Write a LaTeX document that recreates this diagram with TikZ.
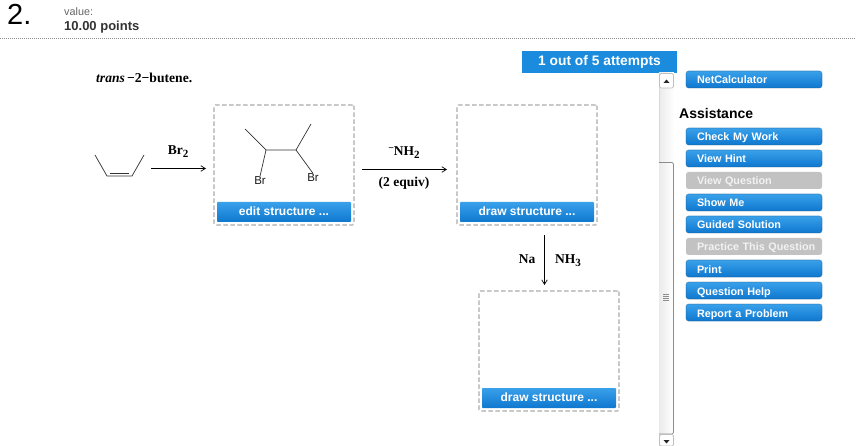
\documentclass[tikz,border=0pt]{standalone}
\usepackage{fontspec}
\setmainfont{Liberation Sans}
\newfontfamily\serifb{Liberation Serif}[BoldFont={Liberation Serif Bold},BoldItalicFont={Liberation Serif Bold Italic}]
\usetikzlibrary{arrows.meta}
\definecolor{btnblue}{HTML}{1B8BDD}
\definecolor{btntop}{HTML}{39A0EA}
\definecolor{btnbot}{HTML}{0F78CF}
\definecolor{btnedge}{HTML}{1A5C90}
\definecolor{dashgray}{HTML}{C8C8C8}
\newcommand{\fsz}[1]{\fontsize{#1}{#1}\selectfont}
\newcommand{\subsc}[1]{\raisebox{-3pt}{\fsz{11}#1}}
\tikzset{
  sidebtn/.style={anchor=north west,rectangle,rounded corners=2.5pt,minimum width=136pt,minimum height=17pt,
    text width=114pt,inner xsep=11pt,inner ysep=0pt,outer sep=0pt,align=left,text=white,font=\fsz{10.8}\bfseries,
    text height=10pt,text depth=1pt,
    top color=btntop,bottom color=btnbot,draw=btnedge,draw opacity=.45,line width=.6pt},
  greybtn/.style={sidebtn,top color=black!24,bottom color=black!24,draw=none,text=black!5},
  dashbox/.style={anchor=north west,rectangle,rounded corners=1.5pt,minimum width=140pt,minimum height=120pt,
    draw=dashgray,line width=1.6pt,dash pattern=on 4.5pt off 2.5pt,inner sep=0pt,outer sep=0pt},
  strbtn/.style={anchor=north west,rectangle,rounded corners=.8pt,minimum width=134pt,minimum height=20pt,inner sep=0pt,outer sep=0pt,
    top color=btntop,bottom color=btnbot,text=white,font=\fsz{12}\bfseries,text height=8pt,text depth=1pt},
  rxarrow/.style={draw=black,line width=.7pt,-{Straight Barb[length=4.5pt,width=5.5pt]}},
  bond/.style={draw=black!80,line width=.7pt},
  rxlabel/.style={font=\serifb\fsz{13.5}\bfseries,inner sep=0pt,text=black},
  atomlabel/.style={font=\fsz{11.5},inner sep=0pt,text=black!90},
}
\begin{document}
\begin{tikzpicture}[x=1pt,y=-1pt]
\useasboundingbox (0,0) rectangle (856,446);
\fill[white] (0,0) rectangle (856,446);

% header
\node[anchor=base west,inner sep=0pt,font=\fsz{29}] (qnum) at (7,25) {2.};
\node[anchor=base west,inner sep=0pt,font=\fsz{10.8},text=black!60] (vlabel) at (64,16) {value:};
\node[anchor=base west,inner sep=0pt,font=\fsz{13}\bfseries,text=black!80] (vpts) at (64,30.5) {10.00 points};
\draw[black!45,line width=.7pt,dash pattern=on 1pt off 1pt] (0,38.5) -- (856,38.5);

% attempts
\node[anchor=north west,rectangle,fill=btnblue,minimum width=155pt,minimum height=22pt,inner sep=0pt,outer sep=0pt,text=white,font=\fsz{13.8}\bfseries] (attempts) at (522,51) {1 out of 5 attempts};

% scrollbar
\shade[left color=black!8,right color=white] (659,73) rectangle (674,446);
\draw[black!15,line width=.6pt] (659,73) -- (659,446);
\draw[rounded corners=1.5pt,black!25,line width=.7pt,fill=white] (659.5,73.5) rectangle (673.5,88);
\fill[black!85] (663.5,83) -- (669.5,83) -- (666.5,79.5) -- cycle;
\shade[left color=black!8,right color=white] (659.3,163) rectangle (673.2,434);
\draw[rounded corners=1.5pt,black!45,line width=.7pt] (659,162.5) -- (673.5,162.5) -- (673.5,434) -- (659,434);
\foreach \yy in {294,296,298,300}{\draw[black!45,line width=.6pt] (663,\yy) -- (669,\yy);}
\draw[rounded corners=1.5pt,black!25,line width=.7pt,fill=white] (659.5,434.5) rectangle (673.5,446);
\fill[black!85] (663.5,440) -- (669.5,440) -- (666.5,443.5) -- cycle;

% title
\node[anchor=base west,inner sep=0pt,font=\serifb\fsz{13.6}\bfseries] (title) at (96,82.5) {\textit{trans}\,−2−butene.};

% butene
\coordinate (a1) at (95,155);
\coordinate (a2) at (107,176);
\coordinate (a3) at (132,176);
\coordinate (a4) at (144,155);
\coordinate (a5) at (110,173);
\coordinate (a6) at (129,173);
\draw[bond] (a1) -- (a2) -- (a3) -- (a4);
\draw[bond] (a5) -- (a6);

% boxes
\node[dashbox] (box1) at (214,105) {};
\node[dashbox] (box2) at (457,105) {};
\node[dashbox] (box3) at (479,291) {};
\node[strbtn] (edit) at (217,202) {edit structure ...};
\node[strbtn] (draw1) at (460,202) {draw structure ...};
\node[strbtn] (draw2) at (482,388) {draw structure ...};

% dibromide
\coordinate (b1) at (245,129);
\coordinate (b2) at (266,150);
\coordinate (b3) at (296,150);
\coordinate (b4) at (311,124);
\node[atomlabel] (br1) at (260,180.5) {Br};
\node[atomlabel] (br2) at (313,177.5) {Br};
\draw[bond] (b1) -- (b2) -- (b3) -- (b4);
\draw[bond] (b2) -- (br1.north);
\draw[bond] (b3) -- (br2.north);

% arrows
\coordinate (r1s) at (151,168.5);
\coordinate (r1e) at (206,168.5);
\draw[rxarrow] (r1s) -- (r1e);
\node[rxlabel] (br2l) at (178,151.5) {Br\subsc{2}};
\coordinate (r2s) at (362,169.5);
\coordinate (r2e) at (447,169.5);
\draw[rxarrow] (r2s) -- (r2e);
\node[rxlabel] (nh2l) at (404,152.5) {\raisebox{3.5pt}{\fsz{10}−}NH\subsc{2}};
\node[rxlabel] (eqv) at (404,183) {(2 equiv)};
\coordinate (r3s) at (544.5,235);
\coordinate (r3e) at (544.5,285);
\draw[rxarrow] (r3s) -- (r3e);
\node[rxlabel] (nal) at (527,259) {Na};
\node[rxlabel] (nh3l) at (568,260.5) {NH\subsc{3}};

% side panel
\node[sidebtn] (net) at (686,71) {NetCalculator};
\node[anchor=base west,inner sep=0pt,font=\fsz{14}\bfseries] (assist) at (679,118.5) {Assistance};
\node[sidebtn] (b01) at (686,128) {Check My Work};
\node[sidebtn] (b02) at (686,150) {View Hint};
\node[greybtn] (b03) at (686,172) {View Question};
\node[sidebtn] (b04) at (686,194) {Show Me};
\node[sidebtn] (b05) at (686,216) {Guided Solution};
\node[greybtn] (b06) at (686,238) {\makebox[114pt][l]{Practice This Question}};
\node[sidebtn] (b07) at (686,260) {Print};
\node[sidebtn] (b08) at (686,282) {Question Help};
\node[sidebtn] (b09) at (686,304) {Report a Problem};
\end{tikzpicture}
\end{document}
